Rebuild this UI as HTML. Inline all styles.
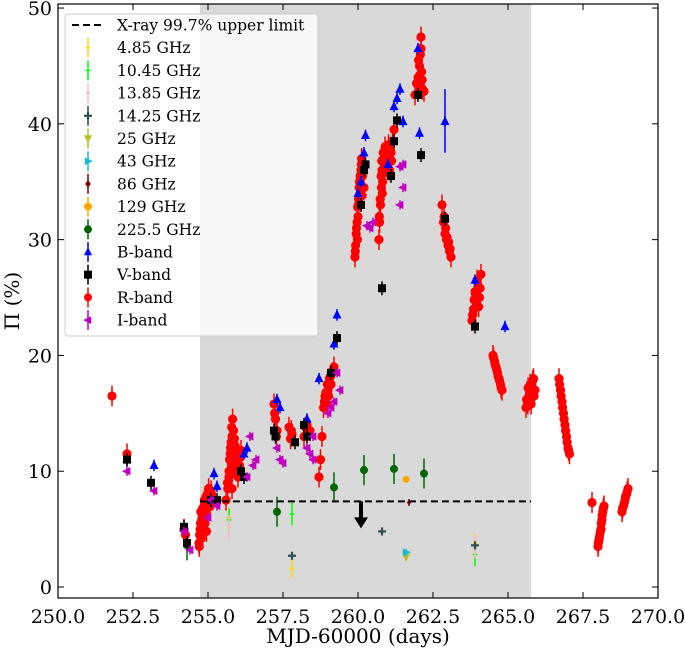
<!DOCTYPE html>
<html><head><meta charset="utf-8">
<style>
html,body{margin:0;padding:0;background:#fff;}
svg{display:block;font-family:"DejaVu Serif","Liberation Serif",serif;}
</style></head>
<body>
<svg id="chart" width="685" height="650" viewBox="0 0 685 650" xmlns="http://www.w3.org/2000/svg">
<g id="plot"></g>
</svg>
<script>
// ---- data ----
const xTicks = [250.0,252.5,255.0,257.5,260.0,262.5,265.0,267.5,270.0];
const yTicks = [0,10,20,30,40,50];
const shadeRange = [254.73, 265.77];
const xrayLimit = 7.4;
const xrayArrowT = 260.1;

const rT = [251.8,252.3,254.2,254.25,
 254.7,254.72,254.75,254.78,254.8,254.82,254.85,254.88,254.9,254.92,254.95,254.98,255.0,255.05,255.1,255.15,
 254.71,254.74,254.76,254.79,254.83,254.86,254.9,254.93,254.97,255.02,255.07,255.12,
 255.6,255.65,255.7,255.72,255.75,255.78,255.8,255.82,255.85,255.9,255.95,256.0,256.05,256.1,255.8,255.85,
 255.66,255.7,255.74,255.77,255.81,255.84,255.88,255.92,255.97,256.02,256.07,255.76,255.79,
 257.2,257.25,257.3,257.28,257.7,257.75,257.8,258.2,258.3,258.4,257.22,257.78,258.25,
 258.7,258.75,258.8,258.85,258.9,258.95,259.0,259.05,259.1,259.15,259.2,258.88,258.93,258.98,259.02,259.08,
 259.9,259.92,259.95,259.98,260.0,260.02,260.05,260.08,260.1,260.12,260.15,260.2,
 259.91,259.94,259.97,259.99,260.01,260.04,260.07,260.11,260.14,
 260.7,260.72,260.75,260.78,260.8,260.82,260.85,260.88,260.9,261.0,261.05,261.1,261.15,261.2,
 260.71,260.74,260.77,260.79,260.81,260.84,260.87,260.93,260.97,261.02,261.08,261.12,
 261.9,261.95,262.0,262.05,262.08,262.1,262.12,262.15,262.2,262.02,262.06,262.1,262.14,
 262.8,262.85,262.9,262.95,263.0,263.05,263.1,262.87,262.92,262.97,263.02,263.07,
 263.8,263.85,263.9,263.95,264.0,264.05,264.1,263.82,263.87,263.92,263.97,264.02,264.07,
 264.5,264.55,264.6,264.65,264.7,264.75,264.8,264.52,264.57,264.62,264.67,264.72,264.77,
 265.6,265.65,265.7,265.75,265.8,265.85,265.9,265.62,265.67,265.72,265.77,265.82,265.87,265.66,265.74,
 266.7,266.75,266.8,266.85,266.9,266.95,267.0,267.05,266.72,266.77,266.82,266.87,266.92,266.97,267.02,
 267.8,268.0,268.03,268.06,268.1,268.13,268.16,268.2,268.01,268.04,268.08,268.11,268.14,268.18,
 268.8,268.85,268.9,268.95,269.0,268.82,268.87,268.92,268.97];
const rV = [16.5,11.5,5.0,4.5,
 3.8,4.5,5.5,4.2,6.0,6.8,5.2,7.5,6.3,7.0,4.8,8.0,7.2,7.6,8.3,7.5,
 3.5,5.0,6.5,5.8,4.8,6.2,5.5,7.8,6.8,8.5,7.0,8.0,
 7.5,9.0,10.0,11.0,12.0,10.5,13.0,14.5,11.5,12.2,10.8,9.5,10.5,11.8,8.5,13.5,
 8.5,9.5,11.5,12.5,10.0,11.2,12.8,10.2,11.0,10.0,11.2,9.8,13.8,
 15.8,14.5,13.5,13.0,13.8,12.8,13.2,13.0,14.0,13.5,15.0,13.5,13.8,
 9.5,11.0,13.0,15.5,16.5,15.8,17.0,18.0,17.5,18.5,19.0,16.0,16.8,17.5,16.5,18.2,
 28.5,29.5,31.0,30.0,32.0,33.5,35.0,34.0,36.0,37.0,35.5,34.5,
 29.0,30.5,31.5,32.8,33.0,34.5,35.5,36.5,33.8,
 30.0,31.5,33.0,34.5,36.0,35.0,37.0,36.5,38.0,37.0,36.0,37.5,38.5,39.5,
 32.0,33.5,35.5,36.8,34.0,37.5,35.8,37.2,36.2,38.2,37.8,36.8,
 42.5,43.5,44.0,45.0,46.0,47.5,44.5,43.0,42.8,45.5,44.2,46.5,43.8,
 33.0,31.5,30.5,30.0,29.5,29.0,28.5,32.0,31.0,30.2,29.8,29.2,
 23.0,24.0,25.5,24.5,26.0,25.0,27.0,23.5,24.8,25.2,26.5,24.2,25.8,
 20.0,19.5,19.0,18.5,18.0,17.5,17.0,19.8,19.2,18.8,18.2,17.8,17.2,
 15.5,16.0,16.5,17.0,17.5,18.0,17.0,16.2,17.2,16.8,15.8,17.8,16.5,15.8,17.5,
 18.0,17.0,16.0,15.0,14.0,13.0,12.0,11.5,17.5,16.5,15.5,14.5,13.5,12.5,11.8,
 7.3,3.5,4.0,4.5,5.0,5.8,6.5,7.0,3.8,4.2,4.8,5.5,6.2,6.8,
 6.5,7.0,7.5,8.0,8.5,6.8,7.2,7.8,8.2];
const bT=[252.3,253.2,255.2,255.3,256.3,256.2,257.3,257.4,258.3,258.7,259.3,259.2,260.0,260.1,260.2,260.25,261.0,261.2,261.3,261.4,261.5,262.0,262.05,262.9,263.9,264.9];
const bV=[11.0,10.5,9.8,8.7,12.0,11.5,16.2,15.5,14.5,18.0,23.5,21.0,34.0,35.0,37.5,39.0,36.5,41.5,42.2,43.0,40.2,46.5,39.2,40.2,26.5,22.5];
const vT=[252.3,253.1,254.2,254.3,255.1,255.3,256.1,256.2,257.2,257.25,257.9,258.2,258.3,259.1,259.3,260.1,260.2,260.25,260.8,261.1,261.2,261.3,262.0,262.1,262.9,263.9];
const vV=[11.0,9.0,5.2,3.8,7.5,7.5,10.0,9.5,13.5,13.0,12.5,14.0,13.0,18.5,21.5,33.0,36.0,36.5,25.8,35.5,38.5,40.3,42.5,37.3,31.8,22.5];
const iT=[252.3,253.2,254.2,254.4,255.0,255.1,255.3,256.3,256.5,256.6,256.4,257.3,257.4,257.5,258.3,258.4,258.5,258.5,259.0,259.1,259.2,259.3,259.4,260.3,260.4,260.5,261.4,261.5,261.5,261.4];
const iV=[10.0,8.3,4.8,3.2,6.0,7.5,7.0,9.5,10.5,11.0,13.0,12.0,11.0,10.7,12.0,11.5,11.0,13.0,15.0,15.5,16.0,18.5,17.0,31.2,31.0,31.5,33.0,34.5,36.5,36.3];
const g485T=[255.7,257.8,263.9], g485V=[6.0,1.6,3.8];
const g1045T=[255.7,257.8,263.9], g1045V=[5.8,6.3,2.8];
const g1385T=[255.7,263.9], g1385V=[5.2,3.5];
const g1425T=[257.8,260.8,263.9], g1425V=[2.7,4.8,3.6];
const g25T=[261.6], g25V=[2.6];
const g43T=[261.6], g43V=[3.0];
const g86T=[261.7], g86V=[7.3];
const g129T=[261.6], g129V=[9.3];
const g225T=[254.3,257.3,259.2,260.2,261.2,262.2], g225V=[3.6,6.5,8.6,10.1,10.2,9.8];

// ---- axes ----
const X0=58, X1=658, Y0=598, Y1=4;
const xmin=250, xmax=270, ymin=-0.95, ymax=50.35;
const sx=t=>X0+(t-xmin)/(xmax-xmin)*(X1-X0);
const sy=v=>Y0-(v-ymin)/(ymax-ymin)*(Y0-Y1);
const NS="http://www.w3.org/2000/svg";
const plot=document.getElementById('plot');
function mk(tag,attrs,parent){const e=document.createElementNS(NS,tag);for(const k in attrs)e.setAttribute(k,attrs[k]);(parent||plot).appendChild(e);return e;}

const shade=mk('rect',{x:sx(shadeRange[0]),y:Y1,width:sx(shadeRange[1])-sx(shadeRange[0]),height:Y0-Y1,fill:'#d9d9d9'});



function marker(g,shape,x,y,color,s){
  if(shape==='o') mk('circle',{cx:x,cy:y,r:s,fill:color},g);
  else if(shape==='s') mk('rect',{x:x-s,y:y-s,width:2*s,height:2*s,fill:color},g);
  else if(shape==='^') mk('polygon',{points:`${x},${y-s*1.2} ${x-s},${y+s*0.8} ${x+s},${y+s*0.8}`,fill:color},g);
  else if(shape==='v') mk('polygon',{points:`${x},${y+s*1.2} ${x-s},${y-s*0.8} ${x+s},${y-s*0.8}`,fill:color},g);
  else if(shape==='<') mk('polygon',{points:`${x-s*1.2},${y} ${x+s*0.8},${y-s} ${x+s*0.8},${y+s}`,fill:color},g);
  else if(shape==='>') mk('polygon',{points:`${x+s*1.2},${y} ${x-s*0.8},${y-s} ${x-s*0.8},${y+s}`,fill:color},g);
  else if(shape==='P'){mk('line',{x1:x-s,y1:y,x2:x+s,y2:y,stroke:color,'stroke-width':2.2},g);mk('line',{x1:x,y1:y-s,x2:x,y2:y+s,stroke:color,'stroke-width':2.2},g);}
  else if(shape==='|'){mk('line',{x1:x-s*0.6,y1:y,x2:x+s*0.6,y2:y,stroke:color,'stroke-width':1.5},g);}
  else if(shape==='d') mk('polygon',{points:`${x},${y-s} ${x+s*0.7},${y} ${x},${y+s} ${x-s*0.7},${y}`,fill:color},g);
}
function series(name,T,V,color,shape,s,err){
  const g=mk('g',{});
  
  
  for(let i=0;i<T.length;i++){
    const x=sx(T[i]),y=sy(V[i]);
    mk('line',{x1:x,y1:sy(V[i]-err),x2:x,y2:sy(V[i]+err),stroke:color,'stroke-width':1.5},g);
    marker(g,shape,x,y,color,s);
  }
}
series('series-4p85ghz',g485T,g485V,'#ffd700','|',4,0.8);
series('series-10p45ghz',g1045T,g1045V,'#00ff00','|',4,1.0);
series('series-13p85ghz',g1385T,g1385V,'#ffb6c1','|',4,1.0);
series('series-14p25ghz',g1425T,g1425V,'#2f4f4f','P',4,0.3);
series('series-25ghz',g25T,g25V,'#bcbd22','v',4,0.4);
series('series-43ghz',g43T,g43V,'#17becf','>',4,0.3);
series('series-86ghz',g86T,g86V,'#800000','d',3,0.3);
series('series-129ghz',g129T,g129V,'#ffa500','o',3.5,0.3);
series('series-225ghz',g225T,g225V,'#006400','o',4,1.3);
series('series-r-band',rT,rV,'#ff0000','o',4.6,0.9);
series('series-b-band',bT,bV,'#0000ff','^',4.5,0.5);
series('series-v-band',vT,vV,'#000000','s',4,0.6);
series('series-i-band',iT,iV,'#bf00bf','<',4.2,0.4);
(function(){const g=mk('g',{});
 mk('line',{x1:sx(262.9),y1:sy(37.5),x2:sx(262.9),y2:sy(43),stroke:'#0000ff','stroke-width':1.5},g);})();

const xl=mk('line',{x1:sx(shadeRange[0]),y1:sy(xrayLimit),x2:sx(shadeRange[1]),y2:sy(xrayLimit),stroke:'#000','stroke-width':2,'stroke-dasharray':'7,4'});


const arr=mk('g',{});


mk('line',{x1:sx(xrayArrowT),y1:sy(xrayLimit),x2:sx(xrayArrowT),y2:sy(xrayLimit)+18,stroke:'#000','stroke-width':4},arr);
mk('polygon',{points:`${sx(xrayArrowT)-7},${sy(xrayLimit)+16} ${sx(xrayArrowT)+7},${sy(xrayLimit)+16} ${sx(xrayArrowT)},${sy(xrayLimit)+27}`,fill:'#000'},arr);

const frame=mk('rect',{x:X0,y:Y1,width:X1-X0,height:Y0-Y1,fill:'none',stroke:'#000','stroke-width':1.2});


for(const t of xTicks){const x=sx(t);
 mk('line',{x1:x,y1:Y0,x2:x,y2:Y0-6,stroke:'#000','stroke-width':1});
 mk('line',{x1:x,y1:Y1,x2:x,y2:Y1+6,stroke:'#000','stroke-width':1});
 const tx=mk('text',{x:x,y:Y0+25,'text-anchor':'middle','font-size':19,fill:'#000'});tx.textContent=t.toFixed(1);
 
 }
for(const v of yTicks){const y=sy(v);
 mk('line',{x1:X0,y1:y,x2:X0+6,y2:y,stroke:'#000','stroke-width':1});
 mk('line',{x1:X1,y1:y,x2:X1-6,y2:y,stroke:'#000','stroke-width':1});
 const ty=mk('text',{x:X0-6,y:y+7,'text-anchor':'end','font-size':19,fill:'#000'});ty.textContent=String(v);
 
 }
const xt=mk('text',{x:(X0+X1)/2,y:643,'text-anchor':'middle','font-size':20,fill:'#000'});xt.textContent='MJD-60000 (days)';


const yt=mk('text',{x:0,y:0,'text-anchor':'middle','font-size':20,fill:'#000',transform:`translate(19,${(Y0+Y1)/2}) rotate(-90)`});yt.textContent='Π (%)';



const legendLabels=['X-ray 99.7% upper limit','4.85 GHz','10.45 GHz','13.85 GHz','14.25 GHz','25 GHz','43 GHz','86 GHz','129 GHz','225.5 GHz','B-band','V-band','R-band','I-band'];
const legendColors=['#000','#ffd700','#00ff00','#ffb6c1','#2f4f4f','#bcbd22','#17becf','#800000','#ffa500','#006400','#0000ff','#000000','#ff0000','#bf00bf'];
const legendShapes=['-','|','|','|','P','v','>','d','o','o','^','s','o','<'];
const lg=mk('g',{});


mk('rect',{x:65,y:14,width:253,height:322,rx:3,fill:'rgba(255,255,255,0.8)',stroke:'#ccc','stroke-width':1},lg);
for(let i=0;i<legendLabels.length;i++){
 const y=25+i*22.7;
 const e=mk('g',{},lg);
 
 
 if(legendShapes[i]==='-') mk('line',{x1:72,y1:y,x2:103,y2:y,stroke:'#000','stroke-width':2,'stroke-dasharray':'7,4'},e);
 else {mk('line',{x1:88,y1:y-10,x2:88,y2:y+10,stroke:legendColors[i],'stroke-width':1.5},e);marker(e,legendShapes[i],88,y,legendColors[i],4);}
 const t=mk('text',{x:117,y:y+5.5,'font-size':15.5,fill:'#000'},e);t.textContent=legendLabels[i];
}
</script>
</body></html>
